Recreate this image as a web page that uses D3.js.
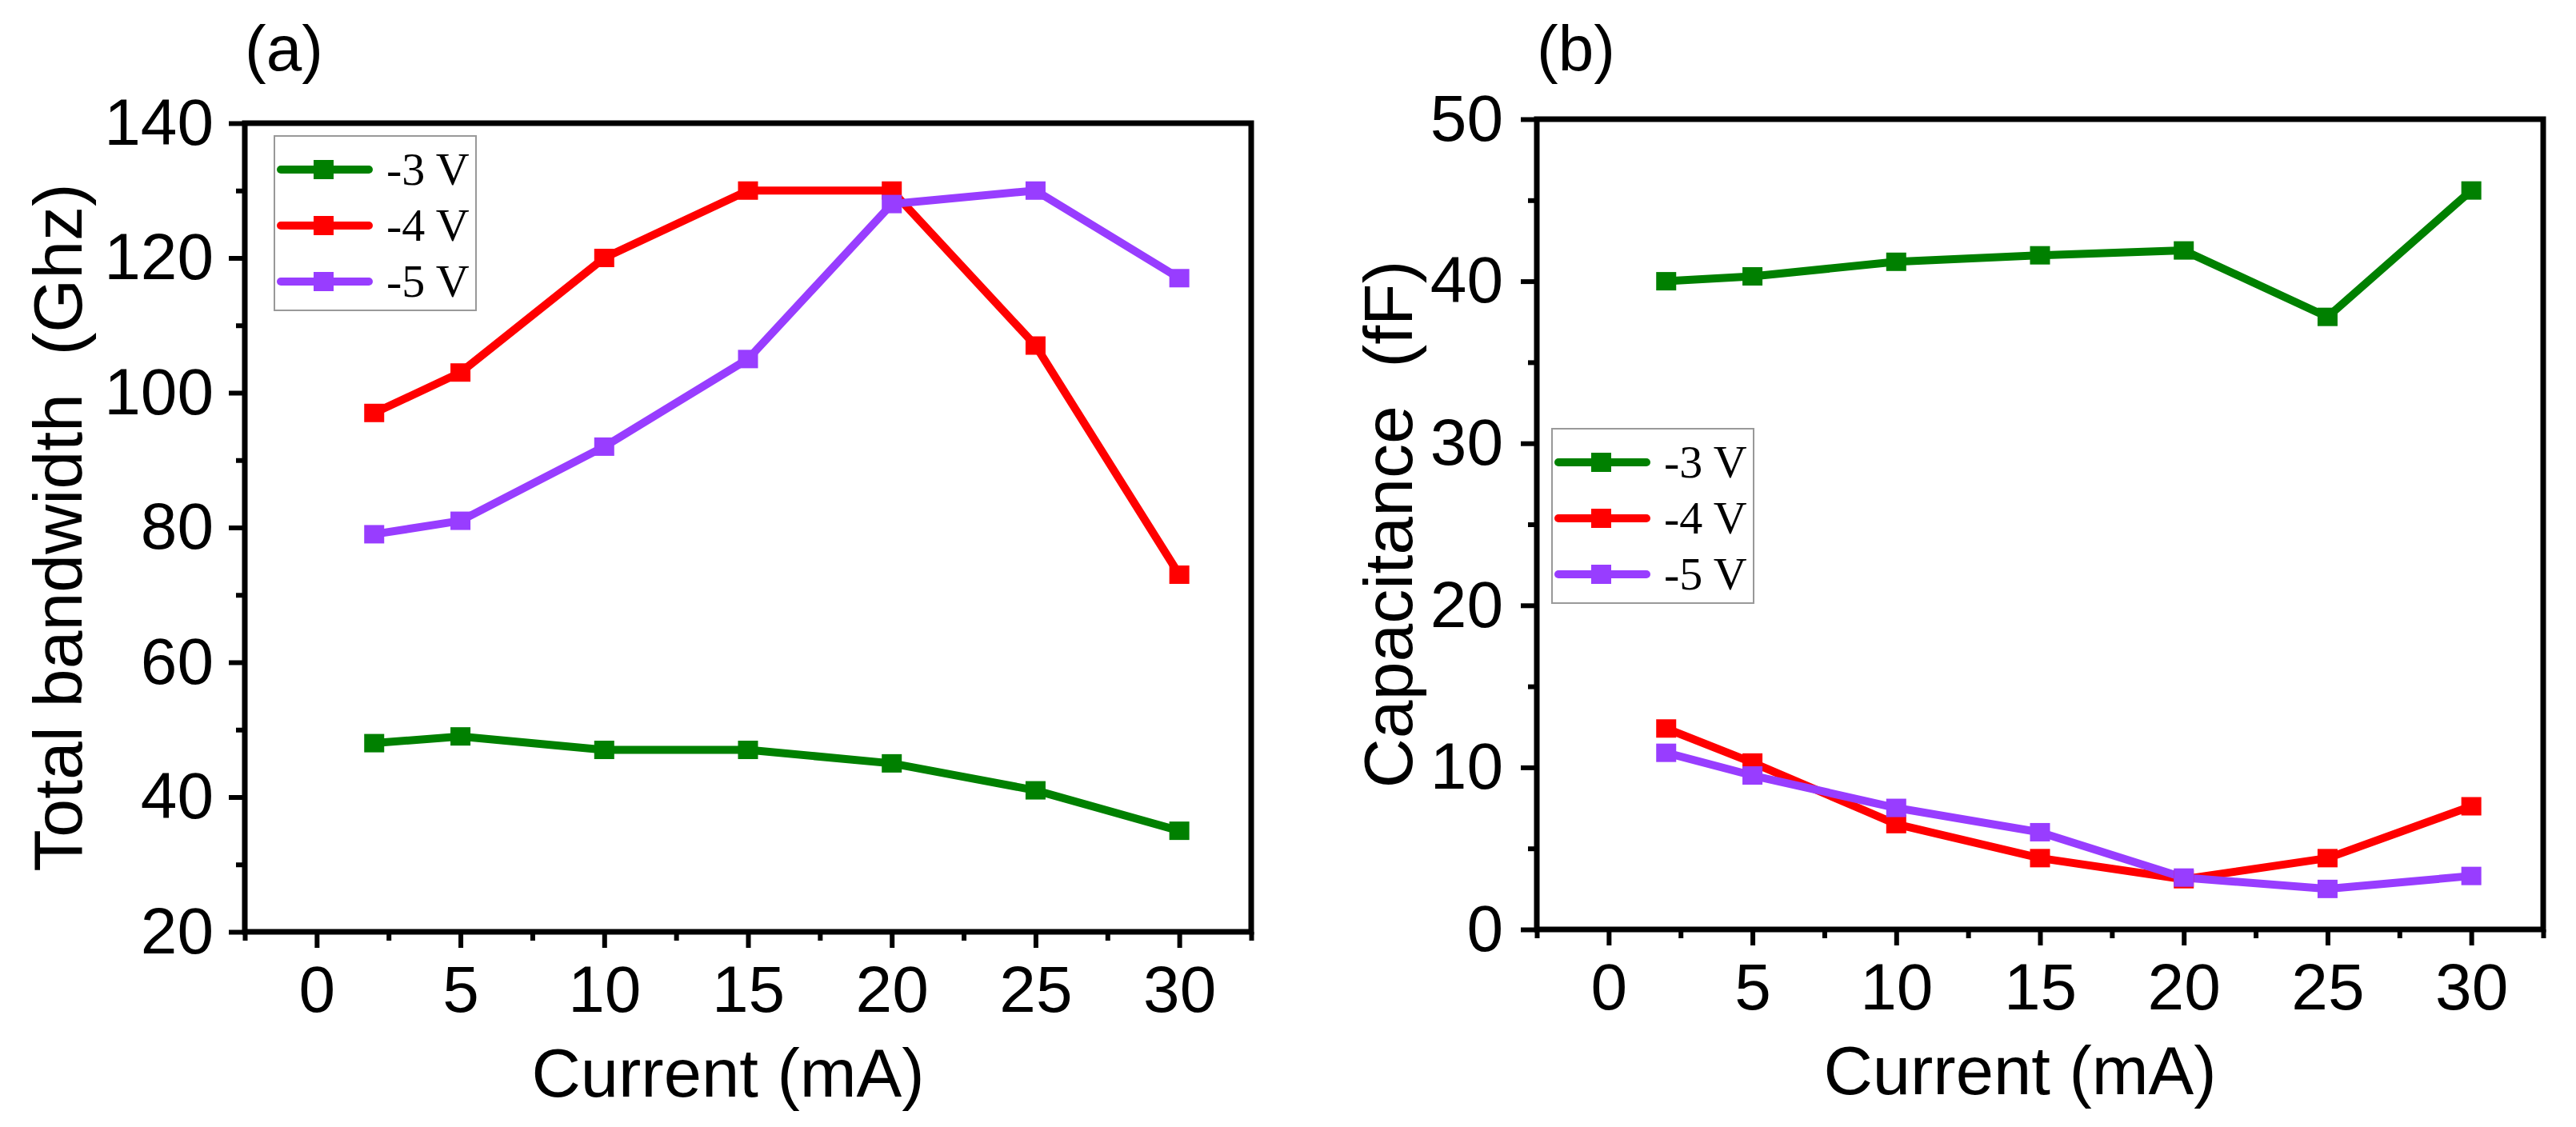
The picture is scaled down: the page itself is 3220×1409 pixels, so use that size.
<!DOCTYPE html>
<html>
<head>
<meta charset="utf-8">
<script src="https://cdn.jsdelivr.net/npm/d3@7"></script>
<style>
  body { margin: 0; background: #fff; }
  svg { display: block; }
</style>
</head>
<body>
<div id="chart"></div>
<script>
// data
var currents = [2, 5, 10, 15, 20, 25, 30];
var seriesNames = ["-3 V", "-4 V", "-5 V"];

var bandwidth3V = [48, 49, 47, 47, 45, 41, 35];
var bandwidth4V = [97, 103, 120, 130, 130, 107, 73];
var bandwidth5V = [79, 81, 92, 105, 128, 130, 117];

var capacitance3V = [40.0, 40.3, 41.2, 41.6, 41.9, 37.8, 45.6];
var capacitance4V = [12.4, 10.3, 6.5, 4.4, 3.1, 4.4, 7.6];
var capacitance5V = [10.9, 9.5, 7.5, 6.0, 3.2, 2.5, 3.3];

var xTicks = [0, 5, 10, 15, 20, 25, 30];
var xMinorTicks = [-2.5, 2.5, 7.5, 12.5, 17.5, 22.5, 27.5, 32.5];
var bwTicks = [20, 40, 60, 80, 100, 120, 140];
var bwMinorTicks = [30, 50, 70, 90, 110, 130];
var capTicks = [0, 10, 20, 30, 40, 50];
var capMinorTicks = [5, 15, 25, 35, 45];

var colors = ["#008000", "#ff0000", "#983dff"];
var sans = "'Liberation Sans', Arial, sans-serif";
var serif = "'Liberation Serif', 'Times New Roman', serif";

var svg = d3.select("#chart").append("svg")
    .attr("width", 3220)
    .attr("height", 1409);

svg.append("rect").attr("width", 3220).attr("height", 1409).attr("fill", "#fff");

function drawPanel(p) {
    var x = d3.scaleLinear().domain([-2.5, 32.5]).range([p.left, p.right]);
    var y = d3.scaleLinear().domain(p.yDomain).range([p.bottom, p.top]);
    var g = svg.append("g");

    // minor ticks
    g.append("g")
        .attr("transform", `translate(0,${p.bottom})`)
        .call(d3.axisBottom(x).tickValues(xMinorTicks).tickSize(11).tickFormat(""))
        .call(s => s.select(".domain").remove())
        .selectAll("line").attr("stroke", "#000").attr("stroke-width", 6);
    g.append("g")
        .attr("transform", `translate(${p.left},0)`)
        .call(d3.axisLeft(y).tickValues(p.yMinor).tickSize(11).tickFormat(""))
        .call(s => s.select(".domain").remove())
        .selectAll("line").attr("stroke", "#000").attr("stroke-width", 6);

    // major ticks and labels
    var xa = g.append("g")
        .attr("transform", `translate(0,${p.bottom})`)
        .call(d3.axisBottom(x).tickValues(xTicks).tickSize(20).tickPadding(22));
    var ya = g.append("g")
        .attr("transform", `translate(${p.left},0)`)
        .call(d3.axisLeft(y).tickValues(p.yTicks).tickSize(20).tickPadding(p.yPad));
    [xa, ya].forEach(function (a) {
        a.select(".domain").remove();
        a.selectAll("line").attr("stroke", "#000").attr("stroke-width", 6);
        a.selectAll("text")
            .attr("fill", "#000")
            .style("font-family", sans)
            .style("font-size", "82px");
    });

    // frame
    g.append("rect")
        .attr("x", p.left).attr("y", p.top)
        .attr("width", p.right - p.left).attr("height", p.bottom - p.top)
        .attr("fill", "none").attr("stroke", "#000").attr("stroke-width", 7);

    var line = d3.line()
        .x((d, i) => x(currents[i]))
        .y(d => y(d));

    p.series.forEach(function (vals, k) {
        g.append("path")
            .attr("d", line(vals))
            .attr("fill", "none")
            .attr("stroke", colors[k])
            .attr("stroke-width", 10)
            .attr("stroke-linejoin", "round");
    });
    p.series.forEach(function (vals, k) {
        g.selectAll(null)
            .data(vals)
            .join("rect")
            .attr("x", (d, i) => x(currents[i]) - 12.5)
            .attr("y", d => y(d) - 11.5)
            .attr("width", 25)
            .attr("height", 23)
            .attr("fill", colors[k]);
    });

    // axis titles
    g.append("text")
        .attr("x", (p.left + p.right) / 2 - 25)
        .attr("y", p.bottom + 206)
        .attr("text-anchor", "middle")
        .style("font-family", sans)
        .style("font-size", "85px")
        .text("Current (mA)");

    g.append("text")
        .attr("transform", `translate(${p.yTitleX},${(p.top + p.bottom) / 2}) rotate(-90)`)
        .attr("text-anchor", "middle")
        .style("font-family", sans)
        .style("font-size", "86px")
        .style("white-space", "pre")
        .text(p.yTitle);

    g.append("text")
        .attr("x", p.left)
        .attr("y", 88)
        .style("font-family", sans)
        .style("font-size", "80px")
        .text(p.tag);

    // legend
    var lg = g.append("g").attr("transform", `translate(${p.legX},${p.legY})`);
    lg.append("rect")
        .attr("width", 252).attr("height", 218)
        .attr("fill", "#fff").attr("stroke", "#999").attr("stroke-width", 2);
    seriesNames.forEach(function (name, k) {
        var cy = 42 + k * 70;
        lg.append("line")
            .attr("x1", 8).attr("x2", 118).attr("y1", cy).attr("y2", cy)
            .attr("stroke", colors[k]).attr("stroke-width", 10)
            .attr("stroke-linecap", "round");
        lg.append("rect")
            .attr("x", 49).attr("y", cy - 12).attr("width", 25).attr("height", 24)
            .attr("fill", colors[k]);
        lg.append("text")
            .attr("x", 140).attr("y", cy + 19)
            .style("font-family", serif)
            .style("font-size", "58px")
            .style("white-space", "pre")
            .text(name);
    });
}

drawPanel({
    left: 306, right: 1564, top: 154, bottom: 1165,
    yDomain: [20, 140], yTicks: bwTicks, yMinor: bwMinorTicks, yPad: 19,
    series: [bandwidth3V, bandwidth4V, bandwidth5V],
    yTitle: "Total bandwidth  (Ghz)", yTitleX: 102, tag: "(a)",
    legX: 343, legY: 170
});

drawPanel({
    left: 1921, right: 3179, top: 149, bottom: 1162,
    yDomain: [0, 50], yTicks: capTicks, yMinor: capMinorTicks, yPad: 22,
    series: [capacitance3V, capacitance4V, capacitance5V],
    yTitle: "Capacitance  (fF)", yTitleX: 1765, tag: "(b)",
    legX: 1940, legY: 536
});
</script>
</body>
</html>
